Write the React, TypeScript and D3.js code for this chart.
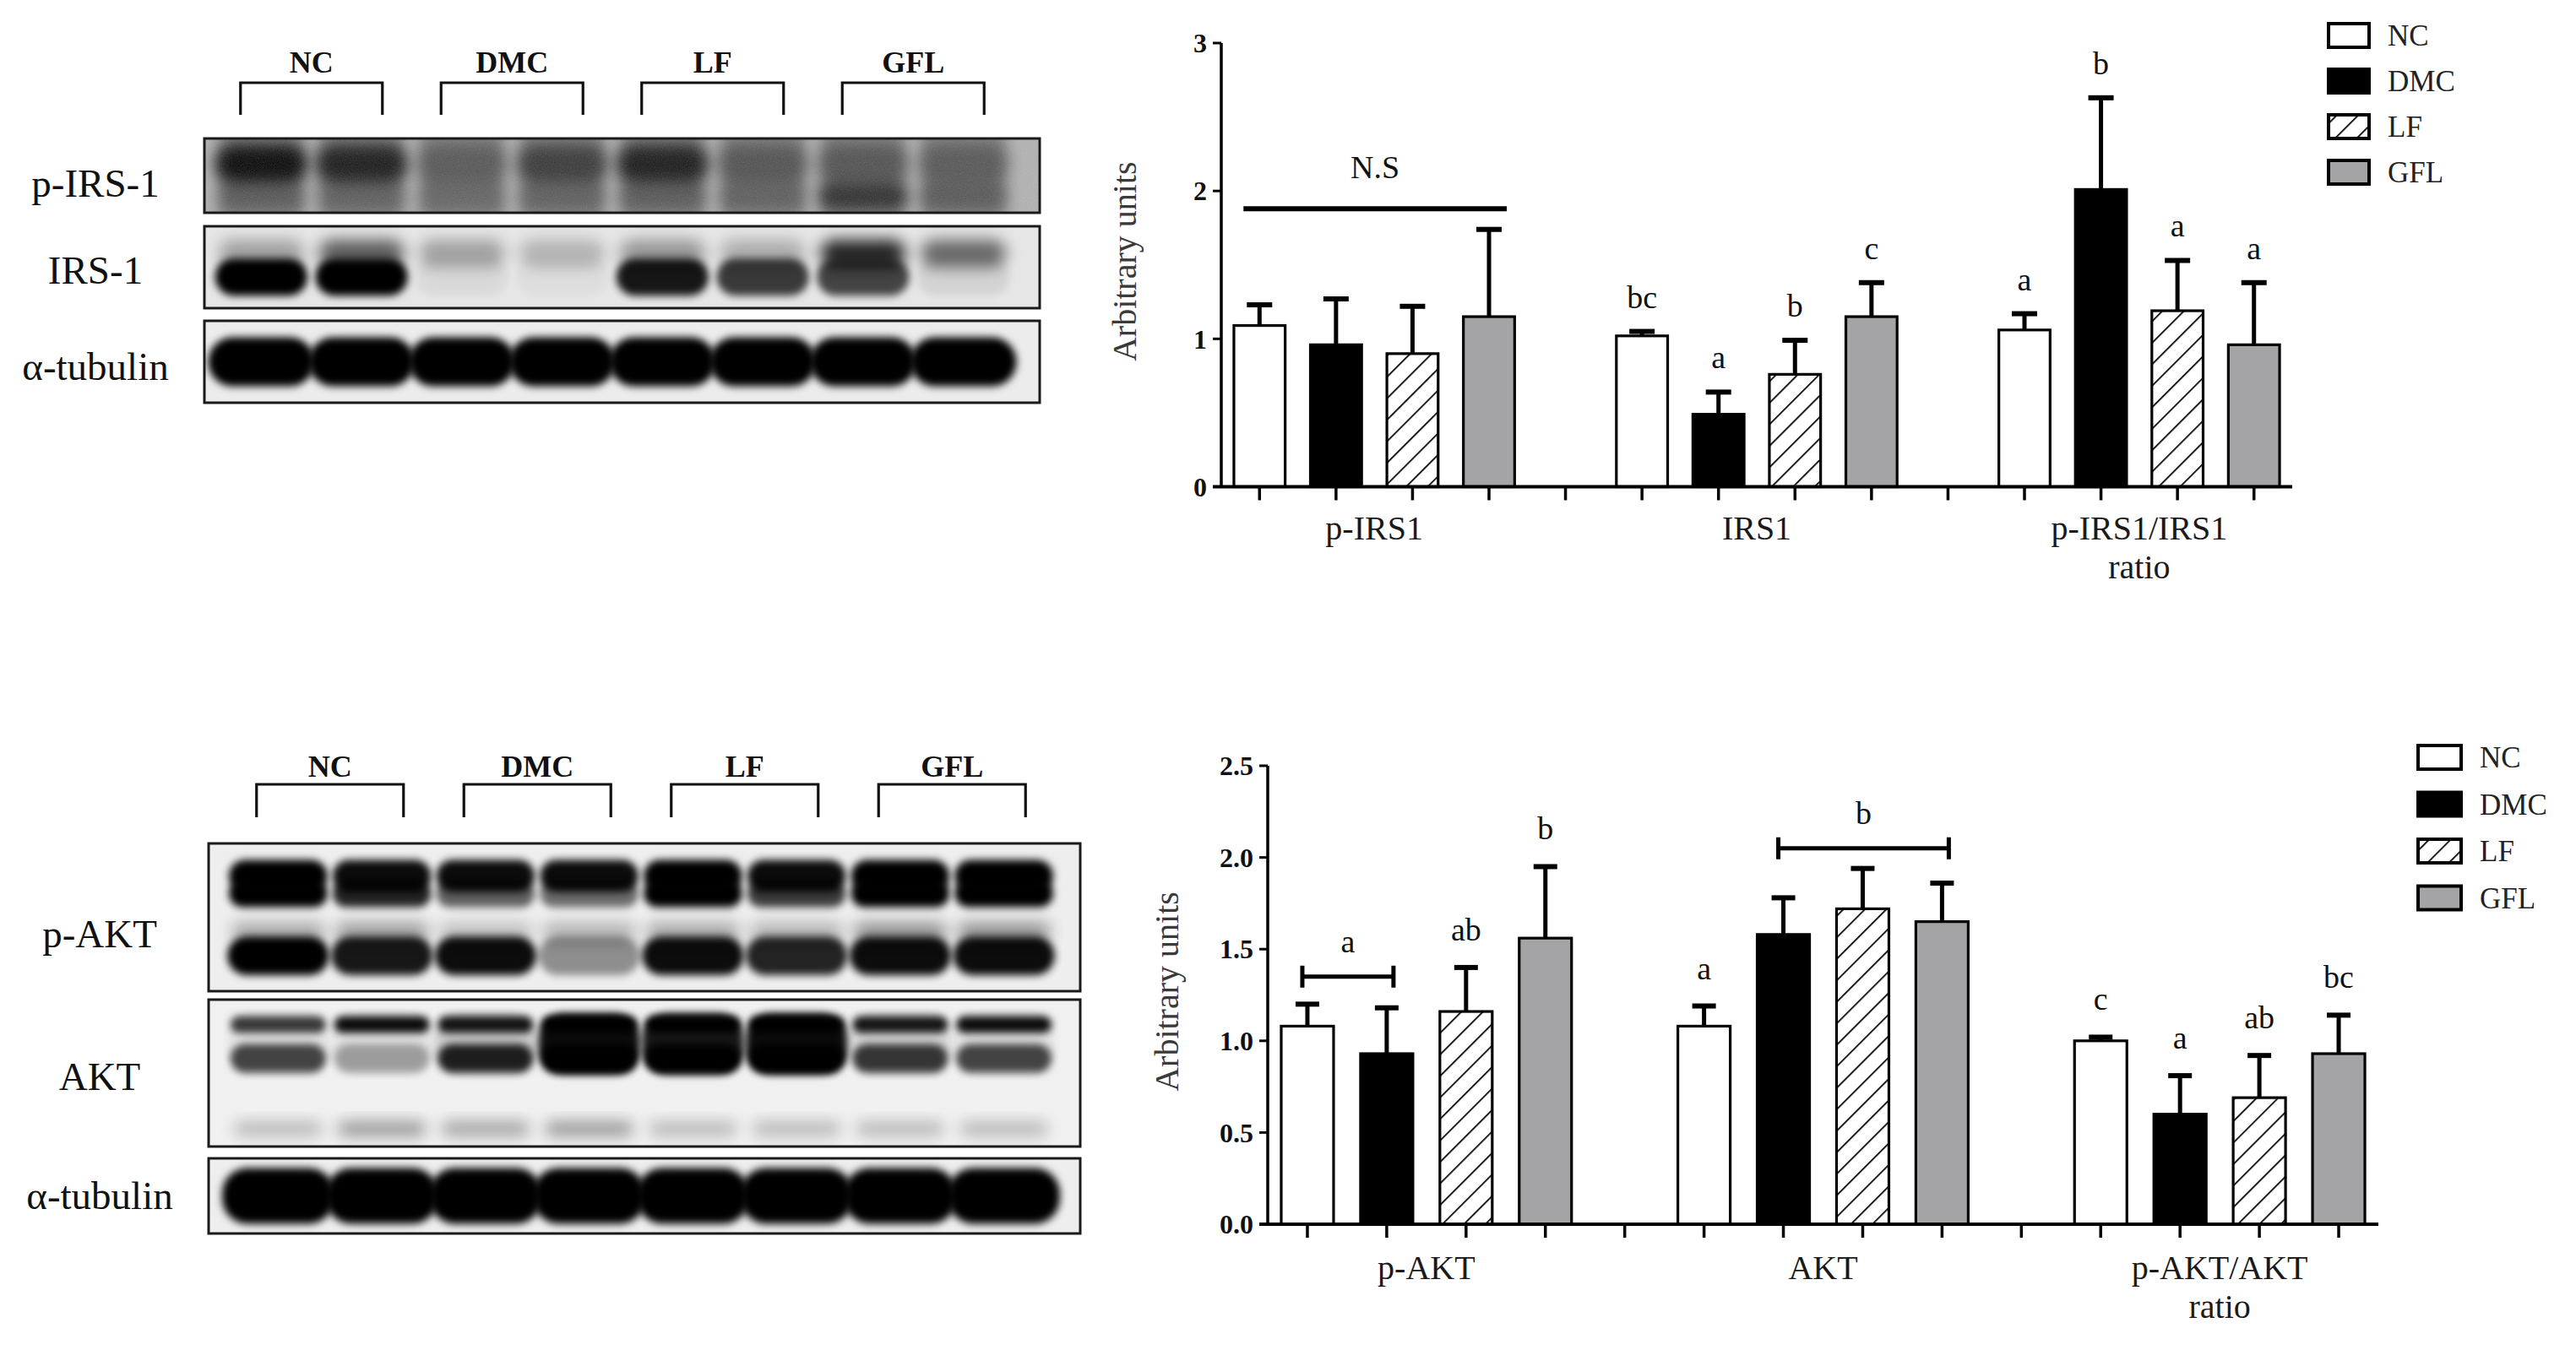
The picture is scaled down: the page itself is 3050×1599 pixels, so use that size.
import * as d3 from "d3";

const SERIES = ["NC", "DMC", "LF", "GFL"];
const SERIES_FILL = ["#ffffff", "#000000", "url(#hatch)", "#a4a4a7"];
const BLOT_GROUPS = ["NC", "DMC", "LF", "GFL"];

// ---- IRS1 bar chart ----
const IRS_GROUPS = [["p-IRS1"], ["IRS1"], ["p-IRS1/IRS1", "ratio"]];
const IRS_NC = [1.09, 1.02, 1.06];
const IRS_DMC = [0.96, 0.49, 2.01];
const IRS_LF = [0.9, 0.76, 1.19];
const IRS_GFL = [1.15, 1.15, 0.96];
const IRS_SEM_NC = [0.14, 0.03, 0.11];
const IRS_SEM_DMC = [0.31, 0.15, 0.62];
const IRS_SEM_LF = [0.32, 0.23, 0.34];
const IRS_SEM_GFL = [0.59, 0.23, 0.42];
const IRS_LETTERS = [
  ["", "", "", ""],
  ["bc", "a", "b", "c"],
  ["a", "b", "a", "a"],
];
const IRS_YTICKS = [0, 1, 2, 3];
const IRS_NS = [{ group: 0, from: 0, to: 3, value: 1.88, label: "N.S" }];

// ---- AKT bar chart ----
const AKT_GROUPS = [["p-AKT"], ["AKT"], ["p-AKT/AKT", "ratio"]];
const AKT_NC = [1.08, 1.08, 1.0];
const AKT_DMC = [0.93, 1.58, 0.6];
const AKT_LF = [1.16, 1.72, 0.69];
const AKT_GFL = [1.56, 1.65, 0.93];
const AKT_SEM_NC = [0.12, 0.11, 0.02];
const AKT_SEM_DMC = [0.25, 0.2, 0.21];
const AKT_SEM_LF = [0.24, 0.22, 0.23];
const AKT_SEM_GFL = [0.39, 0.21, 0.21];
const AKT_LETTERS = [
  ["", "", "ab", "b"],
  ["a", "", "", ""],
  ["c", "a", "ab", "bc"],
];
const AKT_YTICKS = [0, 0.5, 1, 1.5, 2, 2.5];
const AKT_BRACKETS = [
  { group: 0, from: 0, to: 1, value: 1.35, label: "a" },
  { group: 1, from: 1, to: 3, value: 2.05, label: "b" },
];

// ---- blot band intensities, one value per lane (NC NC DMC DMC LF LF GFL GFL) ----
const P_IRS1_UPPER = [0.95, 0.8, 0.3, 0.55, 0.8, 0.35, 0.35, 0.3];
const P_IRS1_LOWER = [0.3, 0.25, 0.2, 0.25, 0.3, 0.25, 0.65, 0.3];
const IRS1_UPPER = [0.3, 0.6, 0.3, 0.22, 0.35, 0.25, 0.85, 0.55];
const IRS1_MAIN = [1, 1, 0.05, 0.03, 0.9, 0.75, 0.7, 0.08];
const TUB_TOP = [1, 1, 1, 1, 1, 1, 1, 1];
const P_AKT_UPPER = [1, 0.95, 0.95, 0.95, 1, 0.95, 1, 1];
const P_AKT_SECOND = [1, 0.85, 0.6, 0.55, 1, 0.75, 1, 1];
const P_AKT_HALO = [0.3, 0.35, 0.2, 0.25, 0.3, 0.25, 0.4, 0.4];
const P_AKT_LOWER = [1, 0.9, 0.95, 0.4, 0.95, 0.85, 0.95, 0.95];
const AKT_TOP = [0.75, 0.95, 0.9, 1, 1, 1, 0.9, 0.95];
const AKT_MID = [0.7, 0.3, 0.85, 1, 1, 1, 0.75, 0.7];
const AKT_SMEAR = [0.05, 0.05, 0.15, 0.95, 0.9, 0.95, 0.1, 0.05];
const AKT_LOW = [0.25, 0.4, 0.35, 0.4, 0.25, 0.25, 0.25, 0.25];
const TUB_BOTTOM = [1, 1, 1, 1, 1, 1, 1, 1];

const SERIF = "'Liberation Serif', 'Times New Roman', serif";

interface PanelLayout {
  left: number;
  right: number;
  bottom: number;
  top: number;
  yMax: number;
  ticks: number[];
  tickFmt: (n: number) => string;
  pad: number;
  titleX: number;
  catDy: number;
  letterGap: number;
  capW: number;
  legendX: number;
  legendY: number;
  legendW: number;
  legendH: number;
  legendStep: number;
}

interface Mark {
  group: number;
  from: number;
  to: number;
  value: number;
  label: string;
}

function BarPanel({
  L,
  groups,
  means,
  sems,
  letters,
  brackets = [],
  lines = [],
}: {
  L: PanelLayout;
  groups: string[][];
  means: number[][];
  sems: number[][];
  letters: string[][];
  brackets?: Mark[];
  lines?: Mark[];
}) {
  const slots = d3.range(groups.length * 5 - 1);
  const x = d3
    .scaleBand<number>()
    .domain(slots)
    .range([L.left, L.right])
    .paddingInner(L.pad)
    .paddingOuter(L.pad / 2);
  const y = d3.scaleLinear().domain([0, L.yMax]).range([L.bottom, L.top]);
  const bw = x.bandwidth();
  const cx = (g: number, s: number) => (x(g * 5 + s) ?? 0) + bw / 2;

  return (
    <g fontFamily={SERIF}>
      {/* bars */}
      {groups.map((_, g) =>
        SERIES.map((name, s) => (
          <rect
            key={`bar-${g}-${name}`}
            x={x(g * 5 + s)}
            y={y(means[s][g])}
            width={bw}
            height={y(0) - y(means[s][g])}
            fill={SERIES_FILL[s]}
            stroke="#000"
            strokeWidth={3.2}
          />
        ))
      )}
      {/* error bars, upper side only */}
      {groups.map((_, g) =>
        SERIES.map((name, s) => {
          const top = y(means[s][g] + sems[s][g]);
          const c = cx(g, s);
          return (
            <g key={`err-${g}-${name}`} stroke="#000">
              <line x1={c} x2={c} y1={y(means[s][g])} y2={top} strokeWidth={5} />
              <line x1={c - L.capW / 2} x2={c + L.capW / 2} y1={top} y2={top} strokeWidth={6} />
            </g>
          );
        })
      )}
      {/* significance letters */}
      {groups.map((_, g) =>
        SERIES.map((name, s) =>
          letters[g][s] ? (
            <text
              key={`let-${g}-${name}`}
              x={cx(g, s)}
              y={y(means[s][g] + sems[s][g]) - L.letterGap}
              textAnchor="middle"
              fontSize={38}
              fill="#111"
            >
              {letters[g][s]}
            </text>
          ) : null
        )
      )}
      {/* brackets */}
      {brackets.map((b, i) => {
        const x1 = cx(b.group, b.from) - 6;
        const x2 = cx(b.group, b.to) + 8;
        const yy = y(b.value);
        return (
          <g key={`br-${i}`} stroke="#000" strokeWidth={5}>
            <line x1={x1} x2={x2} y1={yy} y2={yy} />
            <line x1={x1} x2={x1} y1={yy - 13} y2={yy + 13} />
            <line x1={x2} x2={x2} y1={yy - 13} y2={yy + 13} />
            <text x={(x1 + x2) / 2} y={yy - 29} textAnchor="middle" fontSize={38} fill="#111" stroke="none">
              {b.label}
            </text>
          </g>
        );
      })}
      {/* N.S line */}
      {lines.map((b, i) => {
        const x1 = cx(b.group, b.from) - 19;
        const x2 = cx(b.group, b.to) + 21;
        const yy = y(b.value);
        return (
          <g key={`ns-${i}`}>
            <line x1={x1} x2={x2} y1={yy} y2={yy} stroke="#000" strokeWidth={6} />
            <text x={(x1 + x2) / 2} y={yy - 36} textAnchor="middle" fontSize={38} fill="#111">
              {b.label}
            </text>
          </g>
        );
      })}
      {/* y axis */}
      <line x1={L.left} x2={L.left} y1={y(0) + 1.5} y2={y(L.yMax)} stroke="#000" strokeWidth={3.5} />
      {L.ticks.map((t) => (
        <g key={`yt-${t}`}>
          <line x1={L.left - 10} x2={L.left} y1={y(t)} y2={y(t)} stroke="#000" strokeWidth={3} />
          <text
            x={L.left - 17}
            y={y(t)}
            dy="0.35em"
            textAnchor="end"
            fontSize={32}
            fontWeight="bold"
            fill="#111"
          >
            {L.tickFmt(t)}
          </text>
        </g>
      ))}
      {/* x axis */}
      <line x1={L.left - 10} x2={L.right} y1={y(0)} y2={y(0)} stroke="#000" strokeWidth={4} />
      {slots.map((sl) => {
        const c = (x(sl) ?? 0) + bw / 2;
        return <line key={`xt-${sl}`} x1={c} x2={c} y1={y(0)} y2={y(0) + 16} stroke="#000" strokeWidth={3.5} />;
      })}
      {groups.map((lines2, g) => (
        <text
          key={`cat-${g}`}
          x={(cx(g, 0) + cx(g, 3)) / 2}
          y={y(0) + L.catDy}
          textAnchor="middle"
          fontSize={40}
          fill="#1a1a1a"
        >
          {lines2.map((ln, i) => (
            <tspan key={ln} x={(cx(g, 0) + cx(g, 3)) / 2} dy={i === 0 ? 0 : 46}>
              {ln}
            </tspan>
          ))}
        </text>
      ))}
      {/* y title */}
      <text
        transform={`translate(${L.titleX},${(y(0) + y(L.yMax)) / 2 - 4}) rotate(-90)`}
        textAnchor="middle"
        fontSize={40}
        fill="#3a3a3a"
      >
        Arbitrary units
      </text>
      {/* legend */}
      {SERIES.map((name, s) => (
        <g key={`lg-${name}`}>
          <rect
            x={L.legendX}
            y={L.legendY + s * L.legendStep}
            width={L.legendW}
            height={L.legendH}
            fill={SERIES_FILL[s]}
            stroke="#000"
            strokeWidth={4}
          />
          <text
            x={L.legendX + L.legendW + 22}
            y={L.legendY + s * L.legendStep + L.legendH / 2}
            dy="0.35em"
            fontSize={35}
            fill="#222"
          >
            {name}
          </text>
        </g>
      ))}
    </g>
  );
}

interface BandSpec {
  cy: number;
  h: number;
  w: number;
  v: number[];
  blur?: string;
}

interface BlotRow {
  label: string;
  y0: number;
  y1: number;
  bg: string;
  labelDy: number;
  laneShade?: number;
  grain?: boolean;
  bands: BandSpec[];
}

interface BlotLayout {
  id: string;
  boxX: [number, number];
  lanes: [number, number];
  labelX: number;
  groupLabelY: number;
  bracketTop: number;
  bracketBottom: number;
  bracketHalf: number;
  rows: BlotRow[];
}

function Blot({ B }: { B: BlotLayout }) {
  const lane = d3.scaleBand<number>().domain(d3.range(8)).range(B.lanes);
  const step = lane.step();
  const lc = (i: number) => (lane(i) ?? 0) + lane.bandwidth() / 2;
  return (
    <g fontFamily={SERIF}>
      {BLOT_GROUPS.map((name, g) => {
        const mid = (lc(g * 2) + lc(g * 2 + 1)) / 2;
        return (
          <g key={`bg-${name}`}>
            <text x={mid} y={B.groupLabelY} textAnchor="middle" fontSize={36} fontWeight="bold" fill="#111">
              {name}
            </text>
            <path
              d={`M${mid - B.bracketHalf},${B.bracketBottom}V${B.bracketTop}H${mid + B.bracketHalf}V${B.bracketBottom}`}
              fill="none"
              stroke="#111"
              strokeWidth={3.2}
            />
          </g>
        );
      })}
      {B.rows.map((r, ri) => {
        const h = r.y1 - r.y0;
        const clip = `${B.id}-clip-${ri}`;
        return (
          <g key={`row-${ri}`}>
            <clipPath id={clip}>
              <rect x={B.boxX[0]} y={r.y0} width={B.boxX[1] - B.boxX[0]} height={h} />
            </clipPath>
            <g clipPath={`url(#${clip})`}>
              <rect x={B.boxX[0]} y={r.y0} width={B.boxX[1] - B.boxX[0]} height={h} fill={r.bg} />
              {r.laneShade
                ? d3.range(8).map((i) => (
                    <rect
                      key={`sh-${i}`}
                      x={lc(i) - step * 0.42}
                      y={r.y0 - 10}
                      width={step * 0.84}
                      height={h + 20}
                      fill="#000"
                      opacity={r.laneShade}
                      filter="url(#blurSoft)"
                    />
                  ))
                : null}
              {r.bands.map((b, bi) =>
                b.v.map((val, i) => (
                  <rect
                    key={`b-${bi}-${i}`}
                    x={lc(i) - (b.w * step) / 2}
                    y={r.y0 + b.cy * h - b.h / 2}
                    width={b.w * step}
                    height={b.h}
                    rx={Math.min(b.h / 2, 30)}
                    fill="#000"
                    opacity={val}
                    filter={b.blur ?? "url(#blurBand)"}
                  />
                ))
              )}
              {r.grain ? (
                <rect
                  x={B.boxX[0]}
                  y={r.y0}
                  width={B.boxX[1] - B.boxX[0]}
                  height={h}
                  filter="url(#grain)"
                  opacity={0.22}
                />
              ) : null}
            </g>
            <rect
              x={B.boxX[0]}
              y={r.y0}
              width={B.boxX[1] - B.boxX[0]}
              height={h}
              fill="none"
              stroke="#1a1a1a"
              strokeWidth={3}
            />
            <text
              x={B.labelX}
              y={(r.y0 + r.y1) / 2 + r.labelDy}
              textAnchor="middle"
              fontSize={47}
              fill="#111"
            >
              {r.label}
            </text>
          </g>
        );
      })}
    </g>
  );
}

const TOP_BLOT: BlotLayout = {
  id: "irs",
  boxX: [242, 1231],
  lanes: [250, 1200],
  labelX: 113,
  groupLabelY: 86,
  bracketTop: 98,
  bracketBottom: 136,
  bracketHalf: 84,
  rows: [
    {
      label: "p-IRS-1",
      y0: 164,
      y1: 252,
      bg: "#b2b2b2",
      labelDy: 25,
      laneShade: 0.3,
      grain: true,
      bands: [
        { cy: 0.34, h: 46, w: 0.92, v: P_IRS1_UPPER, blur: "url(#blurWide)" },
        { cy: 0.78, h: 32, w: 0.9, v: P_IRS1_LOWER, blur: "url(#blurWide)" },
      ],
    },
    {
      label: "IRS-1",
      y0: 268,
      y1: 365,
      bg: "#e6e6e6",
      labelDy: 19,
      bands: [
        { cy: 0.33, h: 32, w: 0.85, v: IRS1_UPPER, blur: "url(#blurWide)" },
        { cy: 0.62, h: 44, w: 0.92, v: IRS1_MAIN },
      ],
    },
    {
      label: "α-tubulin",
      y0: 380,
      y1: 477,
      bg: "#ececec",
      labelDy: 21,
      bands: [{ cy: 0.5, h: 58, w: 1.06, v: TUB_TOP }],
    },
  ],
};

const BOTTOM_BLOT: BlotLayout = {
  id: "akt",
  boxX: [247, 1279],
  lanes: [268, 1250],
  labelX: 118,
  groupLabelY: 920,
  bracketTop: 929,
  bracketBottom: 968,
  bracketHalf: 87,
  rows: [
    {
      label: "p-AKT",
      y0: 999,
      y1: 1174,
      bg: "#eeeeee",
      labelDy: 35,
      bands: [
        { cy: 0.22, h: 38, w: 0.95, v: P_AKT_UPPER },
        { cy: 0.34, h: 32, w: 0.95, v: P_AKT_SECOND },
        { cy: 0.6, h: 22, w: 0.9, v: P_AKT_HALO, blur: "url(#blurWide)" },
        { cy: 0.76, h: 46, w: 0.98, v: P_AKT_LOWER },
      ],
    },
    {
      label: "AKT",
      y0: 1184,
      y1: 1358,
      bg: "#f0f0f0",
      labelDy: 20,
      bands: [
        { cy: 0.17, h: 20, w: 0.92, v: AKT_TOP },
        { cy: 0.4, h: 34, w: 0.92, v: AKT_MID },
        { cy: 0.3, h: 72, w: 0.98, v: AKT_SMEAR },
        { cy: 0.88, h: 16, w: 0.85, v: AKT_LOW, blur: "url(#blurWide)" },
      ],
    },
    {
      label: "α-tubulin",
      y0: 1372,
      y1: 1461,
      bg: "#eeeeee",
      labelDy: 15,
      bands: [{ cy: 0.5, h: 66, w: 1.08, v: TUB_BOTTOM }],
    },
  ],
};

const TOP_LAYOUT: PanelLayout = {
  left: 1446,
  right: 2714,
  bottom: 576.5,
  top: 51,
  yMax: 3,
  ticks: IRS_YTICKS,
  tickFmt: d3.format("d"),
  pad: 0.33,
  titleX: 1345,
  catDy: 62,
  letterGap: 28,
  capW: 30,
  legendX: 2757,
  legendY: 28,
  legendW: 48,
  legendH: 28,
  legendStep: 54,
};

const BOTTOM_LAYOUT: PanelLayout = {
  left: 1501,
  right: 2816,
  bottom: 1450,
  top: 907,
  yMax: 2.5,
  ticks: AKT_YTICKS,
  tickFmt: d3.format(".1f"),
  pad: 0.34,
  titleX: 1395,
  catDy: 65,
  letterGap: 32,
  capW: 28,
  legendX: 2863,
  legendY: 883,
  legendW: 51,
  legendH: 28,
  legendStep: 55.5,
};

export default function App() {
  return (
    <svg
      width={3050}
      height={1599}
      viewBox="0 0 3050 1599"
      style={{ position: "absolute", left: 0, top: 0, background: "#fff" }}
    >
      <defs>
        <pattern id="hatch" patternUnits="userSpaceOnUse" width={18} height={18} patternTransform="rotate(45)">
          <rect width={18} height={18} fill="#fff" />
          <line x1={0} y1={0} x2={0} y2={18} stroke="#000" strokeWidth={3.5} />
        </pattern>
        <filter id="blurBand" x="-30%" y="-60%" width="160%" height="220%">
          <feGaussianBlur stdDeviation={5} />
        </filter>
        <filter id="blurWide" x="-30%" y="-80%" width="160%" height="260%">
          <feGaussianBlur stdDeviation={9} />
        </filter>
        <filter id="blurSoft" x="-30%" y="-30%" width="160%" height="160%">
          <feGaussianBlur stdDeviation={8} />
        </filter>
        <filter id="grain">
          <feTurbulence type="fractalNoise" baseFrequency={0.9} numOctaves={2} seed={4} />
          <feColorMatrix type="saturate" values="0" />
        </filter>
      </defs>
      <rect width={3050} height={1599} fill="#fff" />
      <Blot B={TOP_BLOT} />
      <Blot B={BOTTOM_BLOT} />
      <BarPanel
        L={TOP_LAYOUT}
        groups={IRS_GROUPS}
        means={[IRS_NC, IRS_DMC, IRS_LF, IRS_GFL]}
        sems={[IRS_SEM_NC, IRS_SEM_DMC, IRS_SEM_LF, IRS_SEM_GFL]}
        letters={IRS_LETTERS}
        lines={IRS_NS}
      />
      <BarPanel
        L={BOTTOM_LAYOUT}
        groups={AKT_GROUPS}
        means={[AKT_NC, AKT_DMC, AKT_LF, AKT_GFL]}
        sems={[AKT_SEM_NC, AKT_SEM_DMC, AKT_SEM_LF, AKT_SEM_GFL]}
        letters={AKT_LETTERS}
        brackets={AKT_BRACKETS}
      />
    </svg>
  );
}
